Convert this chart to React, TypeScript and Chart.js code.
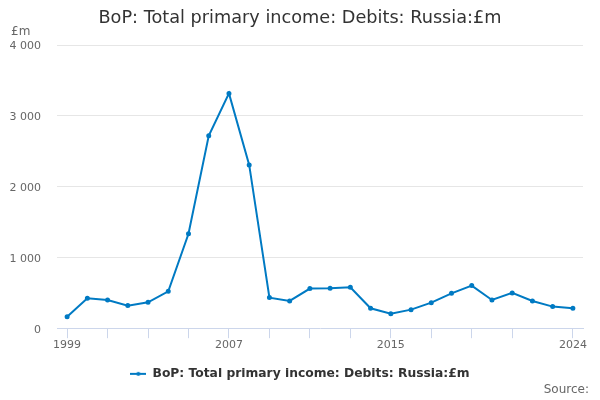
import React, { useEffect, useRef } from "react";
import { Chart, registerables } from "chart.js";

Chart.register(...registerables);

const years: string[] = [
  "1999", "2000", "2001", "2002", "2003", "2004", "2005", "2006", "2007",
  "2008", "2009", "2010", "2011", "2012", "2013", "2014", "2015", "2016",
  "2017", "2018", "2019", "2020", "2021", "2022", "2023", "2024",
];

const debits: number[] = [
  163, 422, 399, 319, 366, 521, 1334, 2717, 3317, 2306, 432, 385, 560, 564,
  578, 281, 205, 262, 361, 493, 602, 399, 499, 385, 305, 281,
];

const labelledYears: string[] = ["1999", "2007", "2015", "2024"];
const tickMarkYears: string[] = [
  "1999", "2001", "2003", "2005", "2007", "2009", "2011", "2013", "2015",
  "2017", "2019", "2021", "2024",
];

const TITLE = "BoP: Total primary income: Debits: Russia:£m";
const SERIES = "BoP: Total primary income: Debits: Russia:£m";
const UNIT = "£m";
const SOURCE = "Source:";

const FONT = "'DejaVu Sans', sans-serif";
const LINE_COLOR = "#007ac3";

function fmt(v: number): string {
  const s = Math.round(v).toString();
  return s.replace(/\B(?=(\d{3})+(?!\d))/g, " ");
}

function makeLegendMarker(): HTMLCanvasElement {
  const c = document.createElement("canvas");
  c.width = 16;
  c.height = 6;
  const g = c.getContext("2d")!;
  g.strokeStyle = LINE_COLOR;
  g.lineWidth = 2;
  g.beginPath();
  g.moveTo(0, 3);
  g.lineTo(16, 3);
  g.stroke();
  g.fillStyle = LINE_COLOR;
  g.beginPath();
  g.arc(8, 3, 2, 0, Math.PI * 2);
  g.fill();
  return c;
}

const extrasPlugin = {
  id: "extras",
  afterDraw(chart: any) {
    const ctx = chart.ctx as CanvasRenderingContext2D;
    ctx.save();
    ctx.fillStyle = "#666666";
    ctx.font = `12px ${FONT}`;
    ctx.textBaseline = "middle";
    ctx.textAlign = "left";
    ctx.fillText(UNIT, 11, 32);
    ctx.textAlign = "right";
    ctx.fillText(SOURCE, 589, 390);
    ctx.restore();
  },
};

export default function App() {
  const ref = useRef<HTMLCanvasElement | null>(null);

  useEffect(() => {
    document.body.style.margin = "0";
    if (!ref.current) return;
    const marker = makeLegendMarker();
    const chart = new Chart(ref.current, {
      type: "line",
      data: {
        labels: years,
        datasets: [
          {
            label: SERIES,
            data: debits,
            borderColor: LINE_COLOR,
            backgroundColor: LINE_COLOR,
            borderWidth: 2,
            pointRadius: 1.5,
            pointHoverRadius: 2.5,
            pointStyle: "circle",
            tension: 0,
            fill: false,
            yAxisID: "y",
          },
        ],
      },
      options: {
        animation: false,
        responsive: false,
        maintainAspectRatio: false,
        devicePixelRatio: 1,
        layout: { padding: { left: 0, right: 0, top: 0, bottom: 10 } },
        plugins: {
          title: {
            display: true,
            text: TITLE,
            color: "#333333",
            font: { family: FONT, size: 17.7, weight: "normal" },
            padding: { top: 7.6, bottom: 16.2 },
          },
          legend: {
            display: true,
            position: "bottom",
            labels: {
              color: "#333333",
              font: { family: FONT, size: 12.3, weight: "bold" },
              usePointStyle: true,
              pointStyle: marker as any,
              pointStyleWidth: 16,
              padding: 10,
              generateLabels: () => [
                {
                  text: SERIES,
                  pointStyle: marker as any,
                  fillStyle: LINE_COLOR,
                  strokeStyle: LINE_COLOR,
                  lineWidth: 0,
                  hidden: false,
                  datasetIndex: 0,
                  fontColor: "#333333",
                } as any,
              ],
            },
          },
          tooltip: { enabled: false },
        },
        scales: {
          x: {
            type: "category",
            offset: true,
            afterFit: (scale: any) => {
              scale.height = 29.5;
            },
            grid: {
              display: true,
              drawOnChartArea: false,
              drawTicks: true,
              tickLength: 10,
              offset: false,
              color: (c: any) =>
                tickMarkYears.includes(years[c.index]) ? "#ccd6eb" : "rgba(0,0,0,0)",
            },
            border: { display: true, color: "#ccd6eb", width: 1 },
            ticks: {
              autoSkip: false,
              maxRotation: 0,
              minRotation: 0,
              padding: 0,
              color: "#666666",
              font: { family: FONT, size: 11 },
              callback: (_v: any, i: number) =>
                labelledYears.includes(years[i]) ? years[i] : "",
            },
          },
          y: {
            min: 0,
            max: 4000,
            position: "left",
            afterFit: (scale: any) => {
              scale.width = 57;
            },
            grid: {
              color: (c: any) => (c.tick && c.tick.value === 0 ? "rgba(0,0,0,0)" : "#e6e6e6"),
              drawTicks: false,
            },
            border: { display: false },
            ticks: {
              stepSize: 1000,
              padding: 16,
              labelOffset: 1.5,
              color: "#666666",
              font: { family: FONT, size: 11 },
              callback: (v: any) => fmt(Number(v)),
            },
          },
          spacer: {
            type: "linear",
            position: "right",
            display: true,
            afterFit: (scale: any) => {
              scale.width = 17;
            },
            grid: { display: false, drawOnChartArea: false, drawTicks: false },
            border: { display: false },
            ticks: { display: false },
          },
        },
      },
      plugins: [extrasPlugin],
    });
    return () => chart.destroy();
  }, []);

  return (
    <div style={{ position: "absolute", left: 0, top: 0, width: 600, height: 400, background: "#ffffff" }}>
      <canvas ref={ref} width={600} height={400} style={{ width: 600, height: 400, display: "block" }} />
    </div>
  );
}
